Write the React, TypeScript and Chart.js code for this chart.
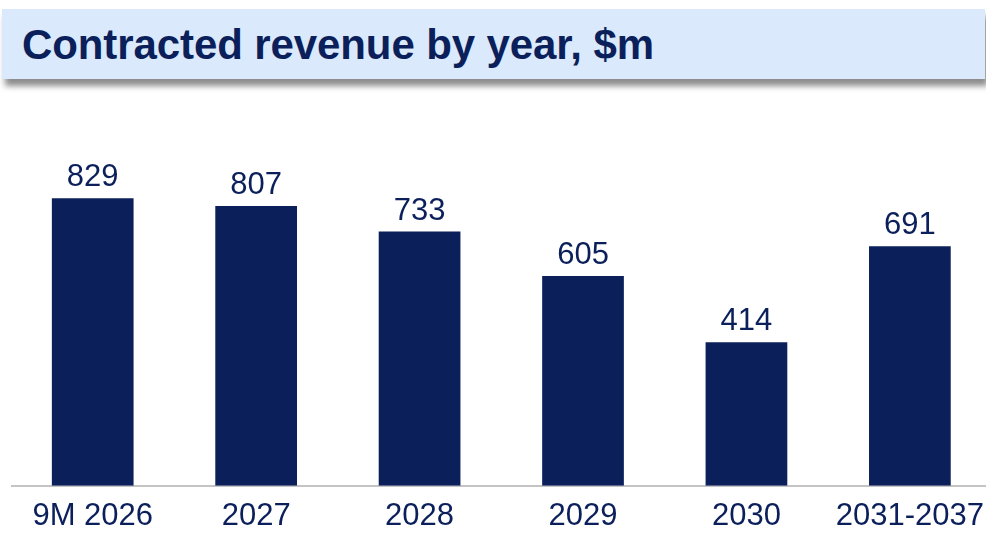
import React, { useEffect, useRef } from "react";
import { Chart, registerables } from "chart.js";

Chart.register(...registerables);

const categories = ["9M 2026", "2027", "2028", "2029", "2030", "2031-2037"];
const revenue = [829, 807, 733, 605, 414, 691];
const titleText = "Contracted revenue by year, $m";

const NAVY = "#0B1F5B";
const FONT = "'Liberation Sans', Arial, sans-serif";

const valueLabels = {
  id: "valueLabels",
  afterDatasetsDraw(chart: any) {
    const ctx = chart.ctx;
    const meta = chart.getDatasetMeta(0);
    const data = chart.data.datasets[0].data as number[];
    ctx.save();
    ctx.font = `31px ${FONT}`;
    ctx.fillStyle = NAVY;
    ctx.textAlign = "center";
    ctx.textBaseline = "alphabetic";
    meta.data.forEach((bar: any, i: number) => {
      ctx.fillText(String(data[i]), bar.x, bar.y - 12);
    });
    ctx.restore();
  },
};

export default function App() {
  const canvasRef = useRef<HTMLCanvasElement | null>(null);

  useEffect(() => {
    if (!canvasRef.current) return;
    const chart = new Chart(canvasRef.current, {
      type: "bar",
      data: {
        labels: categories,
        datasets: [
          {
            data: revenue,
            backgroundColor: NAVY,
            borderWidth: 0,
            categoryPercentage: 1,
            barPercentage: 0.5,
          },
        ],
      },
      options: {
        animation: false,
        responsive: false,
        maintainAspectRatio: false,
        layout: { padding: { top: 39, bottom: 10, left: 0, right: 0 } },
        plugins: {
          legend: { display: false },
          tooltip: { enabled: false },
          title: { display: false },
        },
        scales: {
          x: {
            grid: { display: false, drawTicks: false },
            border: { display: true, color: "#C4C4C4", width: 2 },
            ticks: {
              color: NAVY,
              font: { family: FONT, size: 31 },
              padding: 12,
              autoSkip: false,
              maxRotation: 0,
              minRotation: 0,
            },
          },
          y: {
            display: false,
            min: 0,
            max: 1000,
          },
        },
      },
      plugins: [valueLabels],
    });
    return () => chart.destroy();
  }, []);

  return (
    <div
      style={{
        position: "fixed",
        left: 0,
        top: 0,
        width: 986,
        height: 544,
        overflow: "hidden",
        background: "#ffffff",
      }}
    >
      <div
        style={{
          position: "absolute",
          left: 2,
          top: 9,
          width: 983,
          height: 70,
          background: "#DAE9FB",
          boxShadow: "3px 7px 6px rgba(0,0,0,0.45)",
          boxSizing: "border-box",
          paddingLeft: 20,
          paddingTop: 1,
          fontFamily: FONT,
          fontWeight: "bold",
          fontSize: 42,
          lineHeight: "70px",
          color: NAVY,
          whiteSpace: "nowrap",
          letterSpacing: "-0.1px",
        }}
      >
        {titleText}
      </div>
      <canvas
        ref={canvasRef}
        width={985}
        height={457}
        style={{ position: "absolute", left: 11, top: 100, width: 985, height: 457 }}
      />
    </div>
  );
}
